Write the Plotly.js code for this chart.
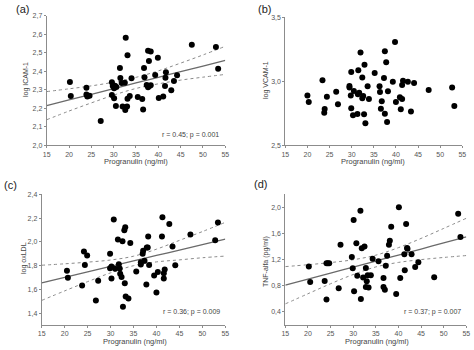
<!DOCTYPE html>
<html>
<head>
<meta charset="utf-8">
<script src="https://cdn.plot.ly/plotly-3.0.1.min.js"></script>
<style>html,body{margin:0;padding:0;background:#fff;}#chart{width:474px;height:350px;}</style>
</head>
<body>
<div id="chart"></div>
<script>
// ---------- data ----------
const progA = [20.2,20.4,23.9,23.9,24.1,24.6,27.1,29.6,29.8,30.1,30.3,30.6,29.6,30.1,30.5,31.4,31.5,31.8,32.0,32.5,32.6,32.7,33.0,33.1,33.1,33.6,34.0,35.4,36.4,36.6,36.8,36.9,37.4,37.7,37.7,37.9,38.3,38.0,38.3,39.3,39.9,40.1,41.1,41.5,41.6,41.7,42.9,43.5,44.2,47.5,52.9,53.4];
const icam  = [2.342,2.266,2.275,2.311,2.263,2.268,2.131,2.340,2.320,2.308,2.322,2.315,2.272,2.254,2.212,2.417,2.363,2.336,2.209,2.338,2.191,2.581,2.209,2.486,2.252,2.266,2.362,2.261,2.250,2.194,2.417,2.367,2.326,2.313,2.511,2.455,2.507,2.320,2.324,2.380,2.473,2.256,2.263,2.320,2.365,2.394,2.297,2.347,2.378,2.543,2.531,2.414];

const progB = [20.0,20.3,23.4,23.9,23.8,24.4,26.5,26.9,29.5,29.5,29.9,29.8,29.9,30.3,30.5,31.3,31.5,31.4,31.7,32.0,32.4,32.4,32.6,32.9,32.8,33.1,33.6,33.9,35.2,36.3,36.4,36.6,36.8,37.3,37.5,37.5,37.8,38.0,38.2,39.3,39.8,40.0,40.9,41.1,41.4,41.4,41.6,42.7,43.4,44.1,47.4,52.7,53.2];
const vcam  = [2.888,2.839,3.008,2.784,2.755,2.880,2.919,2.820,2.964,2.951,3.073,2.888,2.789,2.734,2.924,2.745,3.086,2.898,2.911,3.224,3.029,2.867,2.886,3.130,2.742,2.672,2.961,2.862,3.065,2.961,2.917,2.786,2.844,3.026,2.747,3.234,3.148,2.682,2.922,2.997,3.307,2.839,2.875,2.781,2.862,2.971,3.005,2.997,2.763,2.987,2.932,2.951,2.807];

const progC = [20.5,20.7,23.8,24.2,24.4,24.9,26.8,27.3,29.9,29.9,30.2,30.2,30.7,31.0,31.6,31.8,32.0,32.1,32.4,32.6,32.7,33.0,33.2,33.1,33.3,33.9,34.3,35.6,36.6,36.6,37.0,37.1,37.4,37.9,38.1,37.8,38.2,38.4,39.5,40.0,40.3,41.3,41.2,41.6,41.6,41.8,42.8,43.5,44.1,47.4,52.8,53.4];
const oxldl = [1.756,1.697,1.632,1.918,1.806,1.885,1.506,1.672,1.899,1.778,1.792,1.691,2.187,1.773,2.019,1.812,1.775,1.731,1.705,2.005,1.453,2.097,2.123,1.652,1.540,1.523,1.991,1.750,1.809,1.829,1.899,1.924,1.840,1.952,1.952,1.641,2.044,1.806,1.717,1.574,1.747,2.207,2.044,1.691,1.736,1.767,2.151,1.960,1.803,2.061,2.013,2.162];

const progD = [20.2,20.5,23.7,24.1,24.4,24.7,24.1,26.8,27.2,29.7,29.9,30.1,30.2,30.7,30.9,31.6,31.7,31.9,32.2,32.5,32.8,32.8,33.0,33.2,33.4,33.9,34.3,35.6,36.7,36.7,37.0,37.2,37.5,37.9,38.1,38.4,39.5,40.1,40.4,41.3,41.4,41.7,41.9,42.0,42.9,43.7,44.4,47.9,53.2,53.7];
const tnf   = [1.093,0.859,0.874,1.144,1.144,1.144,0.589,0.762,1.429,1.241,1.067,1.806,0.716,1.450,0.955,1.949,0.599,1.373,0.925,1.399,0.782,1.073,0.869,0.960,0.772,0.960,1.215,1.175,0.920,0.782,0.741,1.108,1.261,1.429,1.490,1.704,0.675,2.000,0.920,1.282,1.037,1.745,1.378,1.368,1.282,1.088,1.159,0.930,1.903,1.547];

// regression lines and 95% bands, read at these x positions
const fitX   = [15,20,25,30,35,40,45,50,55];
const aFit   = [2.214,2.245,2.275,2.306,2.337,2.367,2.398,2.428,2.459];
const aUpper = [2.290,2.305,2.321,2.341,2.367,2.402,2.444,2.488,2.535];
const aLower = [2.138,2.185,2.229,2.271,2.307,2.332,2.352,2.368,2.383];
const cFit   = [1.655,1.701,1.747,1.793,1.839,1.885,1.930,1.976,2.022];
const cUpper = [1.803,1.815,1.829,1.847,1.879,1.938,2.012,2.086,2.164];
const cLower = [1.507,1.587,1.665,1.739,1.799,1.831,1.848,1.866,1.880];
const dFit   = [0.808,0.900,0.993,1.085,1.178,1.270,1.362,1.455,1.547];
const dUpper = [1.093,1.122,1.155,1.198,1.268,1.383,1.524,1.677,1.832];
const dLower = [0.523,0.678,0.831,0.972,1.088,1.157,1.200,1.233,1.262];

const panelLabels = ['(a)','(b)','(c)','(d)'];
const statTexts = ['r = 0.45; p = 0.001','r = 0.36; p = 0.009','r = 0.37; p = 0.007'];
const xTitle = 'Progranulin (ng/ml)';
const yTitles = ['log ICAM-1','log VCAM-1','log oxLDL','TNF-alfa (pg/ml)'];

// ---------- styles ----------
const FONT = 'Arial, "Liberation Sans", sans-serif';
const dotStyle = {color:'#000', size:6};
const fitStyle = {color:'#6a6a6a', width:1.3};
const bandStyle = {color:'#8a8a8a', width:1, dash:'dot'};

function pts(x,y,ax){return {x:x,y:y,xaxis:'x'+ax,yaxis:'y'+ax,mode:'markers',type:'scatter',marker:dotStyle,hoverinfo:'skip'};}
function ln(x,y,ax,st){return {x:x,y:y,xaxis:'x'+ax,yaxis:'y'+ax,mode:'lines',type:'scatter',line:Object.assign({shape:'spline'},st),hoverinfo:'skip'};}

const traces = [
  ln(fitX,aUpper,'',bandStyle), ln(fitX,aLower,'',bandStyle), ln(fitX,aFit,'',fitStyle), pts(progA,icam,''),
  pts(progB,vcam,'2'),
  ln(fitX,cUpper,'3',bandStyle), ln(fitX,cLower,'3',bandStyle), ln(fitX,cFit,'3',fitStyle), pts(progC,oxldl,'3'),
  ln(fitX,dUpper,'4',bandStyle), ln(fitX,dLower,'4',bandStyle), ln(fitX,dFit,'4',fitStyle), pts(progD,tnf,'4')
];

function xa(dom, anchor){
  return {domain:dom, anchor:anchor, range:[15,55], tick0:15, dtick:5, showgrid:false, zeroline:false,
    showline:true, linecolor:'#8c8c8c', linewidth:1, ticks:'outside', ticklen:2, tickcolor:'#8c8c8c',
    tickfont:{family:FONT,size:7,color:'#555'}};
}
function ya(dom, anchor, range, tick0, dtick){
  return {domain:dom, anchor:anchor, range:range, tick0:tick0, dtick:dtick, tickformat:'.1f', showgrid:false, zeroline:false,
    showline:true, linecolor:'#8c8c8c', linewidth:1, ticks:'outside', ticklen:2, tickcolor:'#8c8c8c',
    tickfont:{family:FONT,size:7,color:'#555'}};
}

function pa(text, x, y, opts){
  return Object.assign({text:text, xref:'paper', yref:'paper', x:x/474, y:1-y/350, showarrow:false,
    xanchor:'center', yanchor:'middle', font:{family:FONT,size:7.5,color:'#444'}}, opts||{});
}
const labelFont = {family:FONT,size:11,color:'#222'};
const ytFont = {family:FONT,size:7,color:'#444'};

const layout = {
  width:474, height:350, margin:{l:0,r:0,t:0,b:0}, showlegend:false,
  paper_bgcolor:'#fff', plot_bgcolor:'#fff', separators:',.',
  font:{family:FONT,size:7,color:'#444'},
  xaxis: xa([0.0985,0.4753],'y'),
  yaxis: ya([0.5849,0.9551],'x',[2.0,2.7],2.0,0.1),
  xaxis2: xa([0.6019,0.9753],'y2'),
  yaxis2: ya([0.5849,0.9506],'x2',[2.5,3.5],2.5,0.5),
  xaxis3: xa([0.0880,0.4753],'y3'),
  yaxis3: ya([0.0714,0.4449],'x3',[1.3,2.4],1.4,0.2),
  xaxis4: xa([0.6019,0.9838],'y4'),
  yaxis4: ya([0.0714,0.4451],'x4',[0.2,2.2],0.4,0.4),
  annotations:[
    pa(panelLabels[0], 14, 1, {xanchor:'left', yanchor:'top', font:labelFont}),
    pa(panelLabels[1], 256, 1, {xanchor:'left', yanchor:'top', font:labelFont}),
    pa(panelLabels[2], 2, 177, {xanchor:'left', yanchor:'top', font:labelFont}),
    pa(panelLabels[3], 252, 176, {xanchor:'left', yanchor:'top', font:labelFont}),
    pa(xTitle, 136, 161),
    pa(xTitle, 373, 161),
    pa(xTitle, 135, 341),
    pa(xTitle, 377, 341),
    pa(yTitles[0], 26, 80, {textangle:-90, font:ytFont}),
    pa(yTitles[1], 266, 80, {textangle:-90, font:ytFont}),
    pa(yTitles[2], 24, 258, {textangle:-90, font:ytFont}),
    pa(yTitles[3], 266, 262, {textangle:-90, font:ytFont}),
    {text:statTexts[0], xref:'x', yref:'y', x:54, y:2.055, xanchor:'right', yanchor:'middle', showarrow:false, font:{family:FONT,size:7,color:'#444'}},
    {text:statTexts[1], xref:'x3', yref:'y3', x:54.3, y:1.41, xanchor:'right', yanchor:'middle', showarrow:false, font:{family:FONT,size:7,color:'#444'}},
    {text:statTexts[2], xref:'x4', yref:'y4', x:54.2, y:0.40, xanchor:'right', yanchor:'middle', showarrow:false, font:{family:FONT,size:7,color:'#444'}}
  ]
};

Plotly.newPlot('chart', traces, layout, {staticPlot:true, displayModeBar:false});
</script>
</body>
</html>
